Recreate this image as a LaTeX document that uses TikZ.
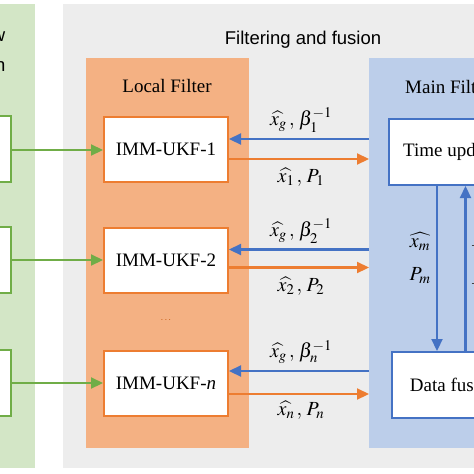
\documentclass[tikz,border=0pt]{standalone}
\usepackage{mathptmx}
\usepackage{fontspec}
\setmainfont{Liberation Serif}
\setsansfont{Liberation Sans}
\usetikzlibrary{arrows.meta}
\definecolor{greenbg}{HTML}{D3E6C6}
\definecolor{graybg}{HTML}{EDEDED}
\definecolor{orangebg}{HTML}{F4B183}
\definecolor{bluebg}{HTML}{BCCEEA}
\definecolor{oline}{HTML}{ED7D31}
\definecolor{bline}{HTML}{4472C4}
\definecolor{gline}{HTML}{70AD47}
\definecolor{dots}{HTML}{C55A11}
\begin{document}
\begin{tikzpicture}[x=1pt,y=-1pt,
  boxstyle/.style={draw=#1, line width=2pt, fill=white, inner sep=0pt,
    font=\fontsize{19}{22}\selectfont},
  arr/.style={draw=#1, line width=2.2pt, -{Triangle[length=12pt,width=11pt]}},
  mlab/.style={inner sep=0pt, font=\fontsize{20}{24}\selectfont},
  ttl/.style={inner sep=0pt, font=\fontsize{19}{22}\selectfont},
  sttl/.style={inner sep=0pt, font=\sffamily\fontsize{18.5}{22}\selectfont}]
\useasboundingbox (0,0) rectangle (474,474);
\clip (0,0) rectangle (474,474);
\fill[white] (0,0) rectangle (474,474);
% panels
\fill[greenbg] (-5,4) rectangle (35,468);
\fill[graybg] (63,4) rectangle (490,468);
\fill[orangebg] (86,58) rectangle (249,448);
\fill[bluebg] (369,58) rectangle (490,448);
% titles
\node[sttl, anchor=east] (tw) at (5.5,37) {w};
\node[sttl, anchor=east] (tn) at (5.5,67) {n};
\node[sttl] (tfus) at (303,40) {Filtering and fusion};
\node[ttl] (tloc) at (167,86) {Local Filter};
\node[ttl, anchor=west] (tmain) at (405,87) {Main Filter};
% source boxes (cut off)
\node[boxstyle=gline, minimum width=40pt, minimum height=66pt] (s1) at (-9,149.2) {};
\node[boxstyle=gline, minimum width=40pt, minimum height=66pt] (s2) at (-9,260.2) {};
\node[boxstyle=gline, minimum width=40pt, minimum height=66pt] (s3) at (-9,383.4) {};
% local filters
\node[boxstyle=oline, minimum width=124pt, minimum height=65pt] (f1) at (166,149.2) {IMM-UKF-1};
\node[boxstyle=oline, minimum width=124pt, minimum height=65pt] (f2) at (166,260.2) {IMM-UKF-2};
\node[boxstyle=oline, minimum width=124pt, minimum height=65pt] (f3) at (166,383.4) {IMM-UKF-\textit{n}};
\node[inner sep=0pt, text=dots, font=\fontsize{10}{12}\selectfont] (dd) at (166,320) {$\cdots$};
% main filter boxes
\node[boxstyle=bline, minimum width=123pt, minimum height=66pt] (tu) at (450.5,152) {Time update};
\node[boxstyle=bline, minimum width=124pt, minimum height=66pt] (df) at (454,385) {Data fusion};
% green arrows
\draw[arr=gline] (s1.east |- 0,150) -- (f1.west |- 0,150);
\draw[arr=gline] (s2.east |- 0,260) -- (f2.west |- 0,260);
\draw[arr=gline] (s3.east |- 0,383) -- (f3.west |- 0,383);
% exchange arrows
\coordinate (b1) at (369,139);
\coordinate (o1) at (369,159);
\coordinate (b2) at (369,249.5);
\coordinate (o2) at (369,267.5);
\coordinate (b3) at (369,371);
\coordinate (o3) at (369,394);
\draw[arr=bline] (b1) -- (f1.east |- b1);
\draw[arr=oline] (f1.east |- o1) -- (o1);
\draw[arr=bline] (b2) -- (f2.east |- b2);
\draw[arr=oline] (f2.east |- o2) -- (o2);
\draw[arr=bline] (b3) -- (f3.east |- b3);
\draw[arr=oline] (f3.east |- o3) -- (o3);
% labels
\node[mlab] (l1a) at (301,120) {$\widehat{x_g}\,,\,\beta_1^{-1}$};
\node[mlab] (l1b) at (301,177) {$\widehat{x_1}\,,\,P_1$};
\node[mlab] (l2a) at (301,231) {$\widehat{x_g}\,,\,\beta_2^{-1}$};
\node[mlab] (l2b) at (301,286) {$\widehat{x_2}\,,\,P_2$};
\node[mlab] (l3a) at (301,352) {$\widehat{x_g}\,,\,\beta_n^{-1}$};
\node[mlab] (l3b) at (301,410) {$\widehat{x_n}\,,\,P_n$};
% vertical arrows
\coordinate (dx) at (437,0);
\coordinate (ux) at (465.5,0);
\draw[arr=bline] (tu.south -| dx) -- (df.north -| dx);
\draw[arr=bline] (df.north -| ux) -- (tu.south -| ux);
\node[mlab] (lm) at (420,242) {$\widehat{x_m}$};
\node[mlab] (lp) at (420,276) {$P_m$};
% cut-off label fragments
\draw[line width=0.9pt, black!75] (471.5,245) -- (474,245);
\draw[line width=0.9pt, black!75] (471.5,283) -- (474,283);
\end{tikzpicture}
\end{document}
